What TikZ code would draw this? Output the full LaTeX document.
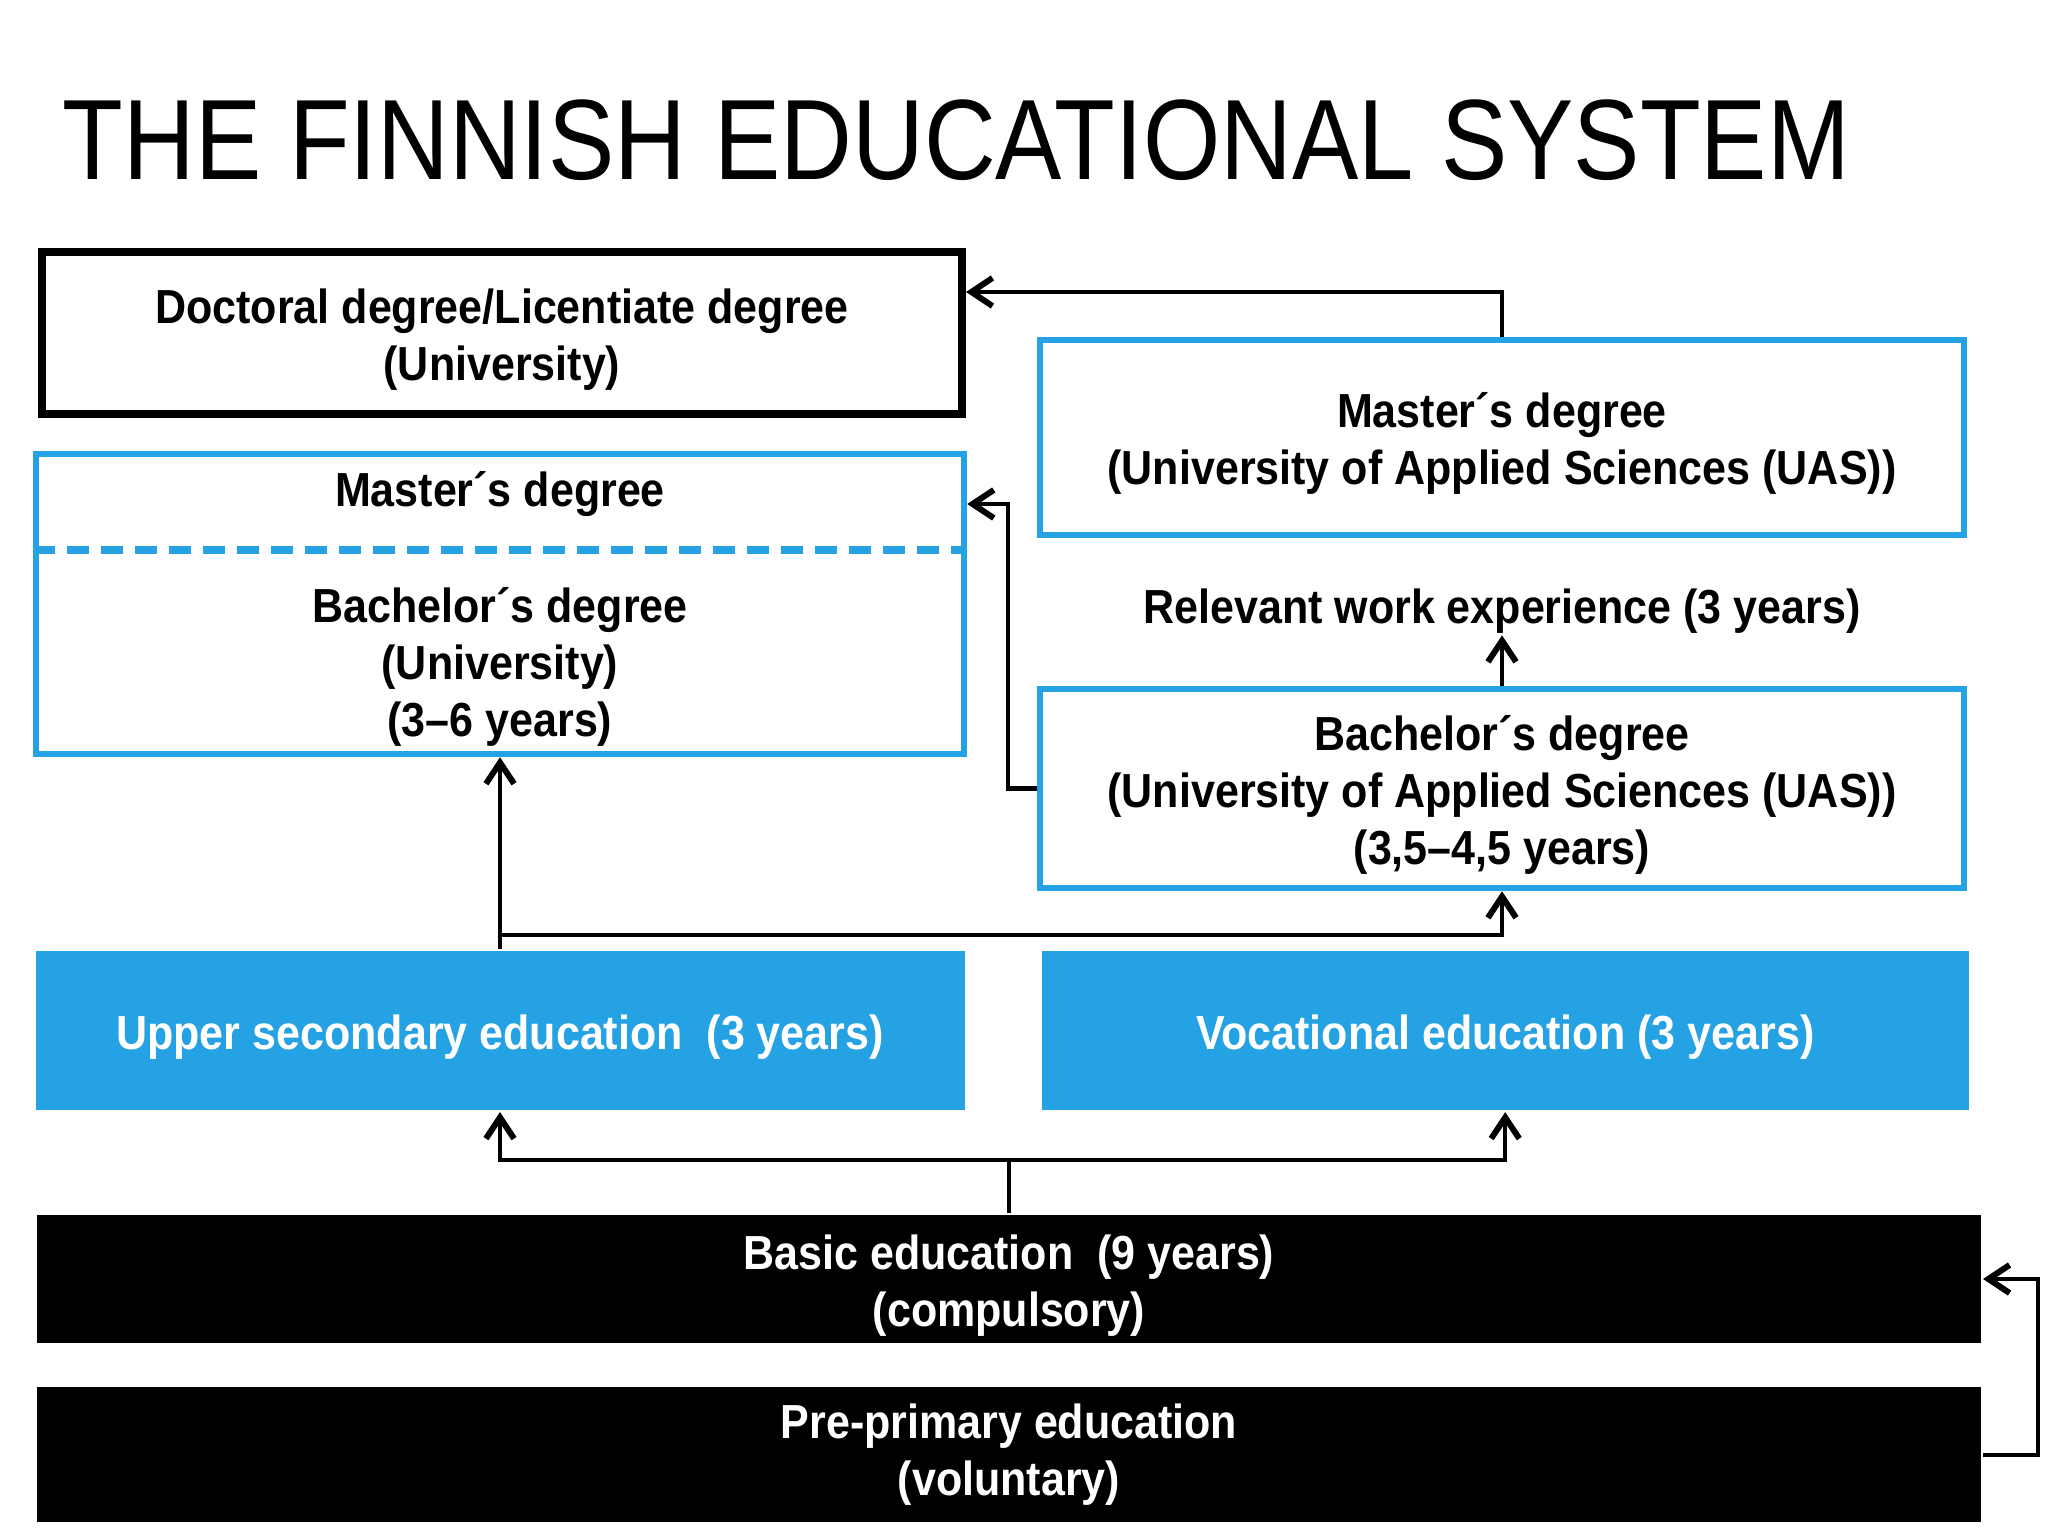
\documentclass[tikz,border=0pt]{standalone}
\usepackage{fontspec}
\setmainfont{Liberation Sans}[FakeStretch=0.9]
\newfontfamily\titlefont{Liberation Sans}[FakeStretch=0.87]
\usetikzlibrary{positioning, arrows.meta}
\definecolor{finblue}{RGB}{36,162,228}
\newcommand{\lift}{\rule{0pt}{13.5pt}}

\tikzset{
  box/.style={rectangle, align=center, inner sep=0pt, font=\fontsize{13.6}{16.2}\selectfont\bfseries},
  blackbox/.style={box, draw=black, line width=0.08cm, minimum width=9.2cm, minimum height=1.62cm},
  bluebox/.style={box, draw=finblue, line width=0.065cm, minimum width=9.24cm},
  bluefill/.style={box, fill=finblue, text=white, minimum width=9.29cm, minimum height=1.59cm},
  darkfill/.style={box, fill=black, text=white, minimum width=19.44cm},
}

\begin{document}
\begin{tikzpicture}[>={Straight Barb[length=6pt,width=8pt,line width=1.7pt]}, line width=1.2pt]
    \useasboundingbox (0,0) rectangle (20.48,-15.36);
    \node[anchor=base west, font=\titlefont\fontsize{32.5}{36}\selectfont] (title) at (0.49,-1.80) {THE FINNISH EDUCATIONAL SYSTEM};

    % university side
    \node[blackbox] (doc) at (5.02,-3.33) {\lift Doctoral degree/Licentiate degree\\(University)};
    \node[bluebox, minimum width=9.28cm, minimum height=3.0cm] (uni) at (5.0,-6.04) {};
    \node[box] (unimsc) at (5.0,-4.945) {Master´s degree};
    \node[box] (unibsc) at (5.0,-6.67) {Bachelor´s degree\\(University)\\(3–6 years)};
    \draw[finblue, line width=0.08cm, dash pattern=on 0.22cm off 0.12cm] (uni.west |- 0,-5.50) -- (uni.east |- 0,-5.50);

    % UAS side
    \node[bluebox, minimum height=1.95cm] (uasmsc) at (15.02,-4.375) {\lift Master´s degree\\(University of Applied Sciences (UAS))};
    \node[box] (work) at (15.02,-6.11) {Relevant work experience (3 years)};
    \node[bluebox, minimum height=1.99cm] (uasbsc) at (15.02,-7.885) {\lift Bachelor´s degree\\(University of Applied Sciences (UAS))\\(3,5–4,5 years)};

    % secondary and basic level
    \node[bluefill] (upsec) at (5.0,-10.305) {\lift Upper secondary education\ \ (3 years)};
    \node[bluefill, minimum width=9.27cm, right=0.73cm of upsec] (voc) {\lift Vocational education (3 years)};
    \node[darkfill, minimum height=1.28cm] (basic) at (10.09,-12.79) {\lift Basic education\ \ (9 years)\\(compulsory)};
    \node[darkfill, minimum height=1.35cm, below=0.40cm of basic] (pre) {Pre-primary education\\(voluntary)};

    \coordinate (bend) at (10.08,-5.04);
    \coordinate (split) at (5.0,-9.35);
    \coordinate (fork) at (10.09,-11.60);
    \coordinate (loop) at (20.38,-12.79);

    \draw[->] (uasmsc.north) |- (doc.east |- 0,-2.92);
    \draw[->] (uasbsc.west) -| (bend) -- (uni.east |- bend);
    \draw[->] (uasbsc.north) -- (work.south);
    \draw[->] (upsec.north) -- (uni.south);
    \draw[->] (split) -| (uasbsc.south);
    \draw (basic.north) -- (fork);
    \draw[->] (fork) -| (upsec.south);
    \draw[->] (fork) -| (voc.south);
    \draw[->] (pre.east) -| (loop) -- (basic.east);
\end{tikzpicture}
\end{document}
